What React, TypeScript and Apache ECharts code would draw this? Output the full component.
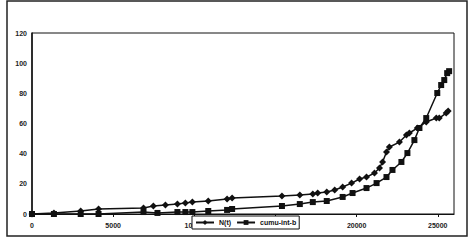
import React, { useEffect, useRef } from "react";
import * as echarts from "echarts";

const nTimes = [0, 1350, 3000, 4100, 6870, 7480, 8220, 8960, 9450, 9880, 10860, 12020, 12330, 15400, 16500, 17300, 17600, 18160, 18650, 19140, 19690, 20180, 20610, 21100, 21410, 21600, 21840, 22020, 22640, 23070, 23250, 23740, 24290, 24910, 25090, 25520, 25640];
const nValues = [0, 0.7, 2.0, 3.3, 4.0, 5.3, 6.0, 6.6, 7.3, 8.0, 8.6, 9.9, 10.6, 11.9, 12.6, 13.3, 13.9, 14.6, 15.9, 17.9, 20.5, 23.2, 24.5, 27.2, 30.5, 34.5, 41.1, 44.4, 47.7, 52.4, 53.7, 57.0, 61.0, 63.6, 63.6, 66.9, 68.3];

const cTimes = [0, 1350, 3000, 4100, 6870, 7730, 8960, 9450, 9880, 10860, 12020, 12330, 15400, 16500, 17300, 18160, 19140, 19750, 20610, 21230, 21840, 22210, 22760, 23130, 23560, 23870, 24290, 24970, 25210, 25400, 25580, 25700];
const cValues = [0, 0, 0, 0, 1.3, 0.7, 1.3, 1.3, 1.3, 2.0, 2.7, 3.3, 5.3, 6.6, 7.9, 8.6, 11.3, 13.9, 17.2, 20.5, 24.5, 29.2, 34.5, 40.4, 49.0, 57.0, 63.6, 80.2, 85.5, 88.8, 93.4, 94.7];

const seriesNames = ["N(t)", "cumu-int-b"];
const hiddenXLabels = [15000];

export default function App() {
  const ref = useRef<HTMLDivElement>(null);
  useEffect(() => {
    if (!ref.current) return;
    const chart = echarts.init(ref.current, undefined, { renderer: "svg" });
    const font = "Liberation Sans, Arial, sans-serif";
    chart.setOption({
      animation: false,
      backgroundColor: "#ffffff",
      textStyle: { fontFamily: font },
      graphic: [
        {
          type: "rect",
          shape: { x: 7, y: 1, width: 460, height: 235 },
          style: { fill: "none", stroke: "#222", lineWidth: 1.5 },
          z: 0,
        },
      ],
      grid: {
        left: 32,
        top: 33,
        right: 20,
        bottom: 30,
        show: true,
        borderColor: "#111",
        borderWidth: 1,
      },
      legend: {
        data: seriesNames,
        left: 192,
        top: 216,
        orient: "horizontal",
        itemGap: 5,
        itemWidth: 18,
        itemHeight: 6,
        padding: [3, 3],
        borderColor: "#111",
        borderWidth: 1,
        backgroundColor: "#ffffff",
        textStyle: { fontSize: 7, color: "#111", fontFamily: font, fontWeight: "bold" },
        z: 10,
      },
      xAxis: {
        type: "value",
        min: 0,
        max: 26000,
        interval: 5000,
        axisLine: { show: true, lineStyle: { color: "#111", width: 1.2 } },
        axisTick: { show: true, length: 3, lineStyle: { color: "#111" } },
        splitLine: { show: false },
        axisLabel: {
          showMaxLabel: false,
          fontSize: 7,
          fontWeight: "bold",
          color: "#222",
          margin: 8,
          fontFamily: font,
          formatter: (v: number) => (hiddenXLabels.includes(v) ? "" : String(v)),
        },
      },
      yAxis: {
        type: "value",
        min: 0,
        max: 120,
        interval: 20,
        axisLine: { show: true, lineStyle: { color: "#111", width: 1.5 } },
        axisTick: { show: false },
        splitLine: { show: false },
        axisLabel: {
          fontSize: 7,
          fontWeight: "bold",
          color: "#222",
          margin: 5,
          fontFamily: font,
        },
      },
      series: [
        {
          name: seriesNames[0],
          type: "line",
          data: nTimes.map((t, i) => [t, nValues[i]]),
          symbol: "diamond",
          symbolSize: 7,
          itemStyle: { color: "#111" },
          lineStyle: { color: "#111", width: 1.5 },
        },
        {
          name: seriesNames[1],
          type: "line",
          data: cTimes.map((t, i) => [t, cValues[i]]),
          symbol: "rect",
          symbolSize: 6,
          itemStyle: { color: "#111" },
          lineStyle: { color: "#111", width: 1.5 },
        },
      ],
    });
    return () => chart.dispose();
  }, []);
  return <div ref={ref} style={{ width: 474, height: 244, position: "absolute", left: 0, top: 0 }} />;
}
